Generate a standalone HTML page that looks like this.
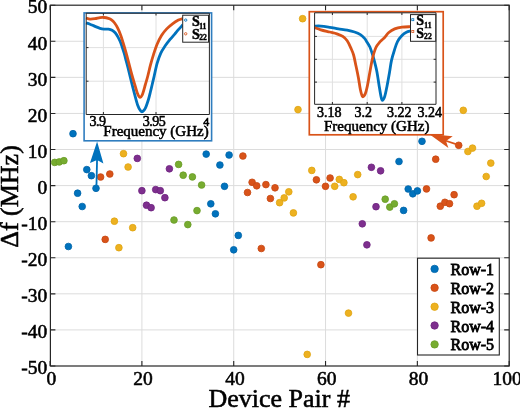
<!DOCTYPE html><html><head><meta charset="utf-8"><style>html,body{margin:0;padding:0;background:#fff;overflow:hidden}svg{display:block}text{font-family:"Liberation Serif",serif;stroke:#000;stroke-width:0.55px}</style></head><body>
<svg width="520" height="409" viewBox="0 0 520 409">
<rect width="520" height="409" fill="#fff"/>
<path d="M141.90 5.2V366 M233.72 5.2V366 M325.54 5.2V366 M417.36 5.2V366 M50.4 329.92H509.2 M50.4 293.84H509.2 M50.4 257.76H509.2 M50.4 221.68H509.2 M50.4 185.60H509.2 M50.4 149.52H509.2 M50.4 113.44H509.2 M50.4 77.36H509.2 M50.4 41.28H509.2" stroke="#DCDCDC" stroke-width="1" fill="none"/>
<path d="M50.08 366V361M50.08 5.2V10.2 M141.90 366V361M141.90 5.2V10.2 M233.72 366V361M233.72 5.2V10.2 M325.54 366V361M325.54 5.2V10.2 M417.36 366V361M417.36 5.2V10.2 M509.18 366V361M509.18 5.2V10.2 M50.4 366.00H55.4M509.2 366.00H504.2 M50.4 329.92H55.4M509.2 329.92H504.2 M50.4 293.84H55.4M509.2 293.84H504.2 M50.4 257.76H55.4M509.2 257.76H504.2 M50.4 221.68H55.4M509.2 221.68H504.2 M50.4 185.60H55.4M509.2 185.60H504.2 M50.4 149.52H55.4M509.2 149.52H504.2 M50.4 113.44H55.4M509.2 113.44H504.2 M50.4 77.36H55.4M509.2 77.36H504.2 M50.4 41.28H55.4M509.2 41.28H504.2 M50.4 5.20H55.4M509.2 5.20H504.2" stroke="#262626" stroke-width="1.1" fill="none"/>
<rect x="50.4" y="5.2" width="458.8" height="360.8" fill="none" stroke="#262626" stroke-width="1.2"/>
<g font-size="19.5" fill="#000"><text x="47.2" y="374.2" text-anchor="end">-50</text><text x="47.2" y="338.1" text-anchor="end">-40</text><text x="47.2" y="302.0" text-anchor="end">-30</text><text x="47.2" y="266.0" text-anchor="end">-20</text><text x="47.2" y="229.9" text-anchor="end">-10</text><text x="47.2" y="193.8" text-anchor="end">0</text><text x="47.2" y="157.7" text-anchor="end">10</text><text x="47.2" y="121.6" text-anchor="end">20</text><text x="47.2" y="85.6" text-anchor="end">30</text><text x="47.2" y="49.5" text-anchor="end">40</text><text x="47.2" y="13.4" text-anchor="end">50</text><text x="51.3" y="385" text-anchor="middle">0</text><text x="143.1" y="385" text-anchor="middle">20</text><text x="234.9" y="385" text-anchor="middle">40</text><text x="326.7" y="385" text-anchor="middle">60</text><text x="418.6" y="385" text-anchor="middle">80</text><text x="507.0" y="385" text-anchor="middle">100</text></g>
<text x="279.2" y="407.2" font-size="26" text-anchor="middle" fill="#000">Device Pair #</text>
<text transform="translate(18.0 196.5) rotate(-90)" font-size="26" text-anchor="middle" fill="#000">Δf (MHz)</text>
<g fill="#0072BD" stroke="#0064A8" stroke-width="0.8"><circle cx="73.0" cy="133.7" r="3.35"/><circle cx="86.8" cy="169.6" r="3.35"/><circle cx="91.4" cy="175.7" r="3.35"/><circle cx="96.0" cy="188.3" r="3.35"/><circle cx="77.6" cy="193.2" r="3.35"/><circle cx="82.2" cy="206.5" r="3.35"/><circle cx="68.4" cy="246.5" r="3.35"/><circle cx="206.2" cy="154.1" r="3.35"/><circle cx="229.1" cy="155.0" r="3.35"/><circle cx="219.9" cy="165.0" r="3.35"/><circle cx="224.5" cy="186.3" r="3.35"/><circle cx="210.8" cy="203.8" r="3.35"/><circle cx="215.4" cy="213.8" r="3.35"/><circle cx="238.3" cy="235.4" r="3.35"/><circle cx="233.7" cy="249.8" r="3.35"/><circle cx="422.0" cy="141.3" r="3.35"/><circle cx="399.0" cy="161.5" r="3.35"/><circle cx="408.2" cy="189.0" r="3.35"/><circle cx="412.8" cy="193.8" r="3.35"/><circle cx="417.4" cy="190.9" r="3.35"/><circle cx="403.6" cy="210.4" r="3.35"/></g>
<g fill="#D95319" stroke="#C64812" stroke-width="0.8"><circle cx="100.6" cy="177.0" r="3.35"/><circle cx="109.8" cy="174.0" r="3.35"/><circle cx="105.2" cy="239.4" r="3.35"/><circle cx="242.9" cy="156.0" r="3.35"/><circle cx="252.1" cy="182.3" r="3.35"/><circle cx="256.7" cy="185.8" r="3.35"/><circle cx="265.9" cy="184.6" r="3.35"/><circle cx="275.0" cy="187.8" r="3.35"/><circle cx="247.5" cy="192.5" r="3.35"/><circle cx="270.4" cy="198.5" r="3.35"/><circle cx="261.3" cy="248.5" r="3.35"/><circle cx="316.4" cy="179.8" r="3.35"/><circle cx="325.5" cy="186.3" r="3.35"/><circle cx="330.1" cy="178.0" r="3.35"/><circle cx="320.9" cy="264.7" r="3.35"/><circle cx="435.7" cy="159.2" r="3.35"/><circle cx="458.7" cy="145.3" r="3.35"/><circle cx="426.5" cy="188.9" r="3.35"/><circle cx="454.1" cy="194.7" r="3.35"/><circle cx="440.3" cy="206.2" r="3.35"/><circle cx="444.9" cy="202.3" r="3.35"/><circle cx="449.5" cy="203.7" r="3.35"/><circle cx="431.1" cy="237.9" r="3.35"/></g>
<g fill="#EDB120" stroke="#E0A512" stroke-width="0.8"><circle cx="123.5" cy="153.7" r="3.35"/><circle cx="128.1" cy="167.0" r="3.35"/><circle cx="114.4" cy="221.2" r="3.35"/><circle cx="132.7" cy="227.7" r="3.35"/><circle cx="118.9" cy="247.7" r="3.35"/><circle cx="302.6" cy="18.7" r="3.35"/><circle cx="298.0" cy="109.6" r="3.35"/><circle cx="288.8" cy="191.8" r="3.35"/><circle cx="284.2" cy="197.9" r="3.35"/><circle cx="279.6" cy="202.7" r="3.35"/><circle cx="293.4" cy="212.9" r="3.35"/><circle cx="311.8" cy="170.4" r="3.35"/><circle cx="339.3" cy="179.4" r="3.35"/><circle cx="343.9" cy="182.7" r="3.35"/><circle cx="334.7" cy="186.3" r="3.35"/><circle cx="357.7" cy="174.6" r="3.35"/><circle cx="353.1" cy="196.8" r="3.35"/><circle cx="348.5" cy="313.1" r="3.35"/><circle cx="307.2" cy="354.4" r="3.35"/><circle cx="463.3" cy="110.3" r="3.35"/><circle cx="467.9" cy="151.5" r="3.35"/><circle cx="472.5" cy="148.1" r="3.35"/><circle cx="490.8" cy="163.1" r="3.35"/><circle cx="486.2" cy="176.5" r="3.35"/><circle cx="477.0" cy="206.2" r="3.35"/><circle cx="481.6" cy="203.3" r="3.35"/></g>
<g fill="#7E2F8E" stroke="#6E2480" stroke-width="0.8"><circle cx="137.3" cy="158.4" r="3.35"/><circle cx="141.9" cy="190.7" r="3.35"/><circle cx="146.5" cy="205.2" r="3.35"/><circle cx="151.1" cy="207.7" r="3.35"/><circle cx="169.4" cy="168.8" r="3.35"/><circle cx="155.7" cy="189.6" r="3.35"/><circle cx="160.3" cy="190.7" r="3.35"/><circle cx="164.9" cy="197.7" r="3.35"/><circle cx="371.4" cy="167.3" r="3.35"/><circle cx="380.6" cy="170.8" r="3.35"/><circle cx="376.0" cy="206.7" r="3.35"/><circle cx="362.3" cy="223.8" r="3.35"/><circle cx="366.9" cy="244.8" r="3.35"/></g>
<g fill="#77AC30" stroke="#699C26" stroke-width="0.8"><circle cx="54.7" cy="162.4" r="3.35"/><circle cx="59.3" cy="161.9" r="3.35"/><circle cx="63.9" cy="160.7" r="3.35"/><circle cx="178.6" cy="164.4" r="3.35"/><circle cx="183.2" cy="175.2" r="3.35"/><circle cx="192.4" cy="176.9" r="3.35"/><circle cx="201.6" cy="185.0" r="3.35"/><circle cx="197.0" cy="210.6" r="3.35"/><circle cx="174.0" cy="220.0" r="3.35"/><circle cx="187.8" cy="224.6" r="3.35"/><circle cx="385.2" cy="199.2" r="3.35"/><circle cx="389.8" cy="207.1" r="3.35"/><circle cx="394.4" cy="203.8" r="3.35"/></g>
<rect x="417.5" y="258.2" width="81.8" height="96.8" fill="#fff" stroke="#262626" stroke-width="1.1"/>
<circle cx="434.6" cy="268.9" r="3.7" fill="#0072BD" stroke="#0064A8" stroke-width="0.8"/>
<text x="450.5" y="274.9" font-size="16" fill="#000" style="stroke-width:0.8px">Row-1</text>
<circle cx="434.6" cy="287.8" r="3.7" fill="#D95319" stroke="#C64812" stroke-width="0.8"/>
<text x="450.5" y="293.8" font-size="16" fill="#000" style="stroke-width:0.8px">Row-2</text>
<circle cx="434.6" cy="306.7" r="3.7" fill="#EDB120" stroke="#E0A512" stroke-width="0.8"/>
<text x="450.5" y="312.7" font-size="16" fill="#000" style="stroke-width:0.8px">Row-3</text>
<circle cx="434.6" cy="325.5" r="3.7" fill="#7E2F8E" stroke="#6E2480" stroke-width="0.8"/>
<text x="450.5" y="331.5" font-size="16" fill="#000" style="stroke-width:0.8px">Row-4</text>
<circle cx="434.6" cy="344.4" r="3.7" fill="#77AC30" stroke="#699C26" stroke-width="0.8"/>
<text x="450.5" y="350.4" font-size="16" fill="#000" style="stroke-width:0.8px">Row-5</text>
<g>
<rect x="84.1" y="12.9" width="127.5" height="127.9" fill="#fff" stroke="#2F7DBF" stroke-width="1.6"/>
<path d="M103.4 13.5V114.5M156 13.5V114.5M86 47.6H209.4M86 81.2H209.4" stroke="#E0E0E0" stroke-width="1" fill="none"/>
<path d="M86.00 23.00C86.67 23.20 88.50 23.63 90.00 24.20C91.50 24.77 93.33 25.72 95.00 26.40C96.67 27.08 98.50 27.85 100.00 28.30C101.50 28.75 102.60 28.95 104.00 29.10C105.40 29.25 107.05 29.00 108.40 29.20C109.75 29.40 110.97 29.70 112.10 30.30C113.23 30.90 114.28 31.78 115.20 32.80C116.12 33.82 116.78 34.98 117.60 36.40C118.42 37.82 119.37 39.62 120.10 41.30C120.83 42.98 121.30 44.45 122.00 46.50C122.70 48.55 123.60 51.20 124.30 53.60C125.00 56.00 125.57 58.47 126.20 60.90C126.83 63.33 127.18 64.53 128.10 68.20C129.02 71.87 130.60 78.50 131.70 82.90C132.80 87.30 133.72 90.93 134.70 94.60C135.68 98.27 136.63 102.22 137.60 104.90C138.57 107.58 139.65 109.60 140.50 110.70C141.35 111.80 141.87 111.98 142.70 111.50C143.53 111.02 144.52 109.88 145.50 107.80C146.48 105.72 147.77 101.72 148.60 99.00C149.43 96.28 149.90 93.92 150.50 91.50C151.10 89.08 151.58 87.08 152.20 84.50C152.82 81.92 153.38 79.52 154.20 76.00C155.02 72.48 156.00 67.22 157.10 63.40C158.20 59.58 159.45 56.03 160.80 53.10C162.15 50.17 163.62 48.12 165.20 45.80C166.78 43.48 168.72 41.15 170.30 39.20C171.88 37.25 173.35 35.68 174.70 34.10C176.05 32.52 177.05 31.25 178.40 29.70C179.75 28.15 182.07 25.62 182.80 24.80" fill="none" stroke="#0072BD" stroke-width="2.8" stroke-linejoin="round"/>
<path d="M86.00 18.00C86.67 18.18 88.50 18.98 90.00 19.10C91.50 19.22 93.33 18.95 95.00 18.70C96.67 18.45 98.50 17.80 100.00 17.60C101.50 17.40 102.60 17.37 104.00 17.50C105.40 17.63 107.15 18.00 108.40 18.40C109.65 18.80 110.47 19.13 111.50 19.90C112.53 20.67 113.58 21.67 114.60 23.00C115.62 24.33 116.58 25.87 117.60 27.90C118.62 29.93 119.78 32.75 120.70 35.20C121.62 37.65 122.28 39.95 123.10 42.60C123.92 45.25 124.73 48.03 125.60 51.10C126.47 54.17 127.28 57.17 128.30 61.00C129.32 64.83 130.63 70.22 131.70 74.10C132.77 77.98 133.77 81.13 134.70 84.30C135.63 87.47 136.45 90.93 137.30 93.10C138.15 95.27 138.98 96.98 139.80 97.30C140.62 97.62 141.27 97.13 142.20 95.00C143.13 92.87 144.47 87.67 145.40 84.50C146.33 81.33 146.95 79.27 147.80 76.00C148.65 72.73 149.55 68.47 150.50 64.90C151.45 61.33 152.40 58.03 153.50 54.60C154.60 51.17 155.77 47.48 157.10 44.30C158.43 41.12 159.90 38.07 161.50 35.50C163.10 32.93 164.87 30.85 166.70 28.90C168.53 26.95 170.55 25.27 172.50 23.80C174.45 22.33 176.68 20.97 178.40 20.10C180.12 19.23 182.07 18.85 182.80 18.60" fill="none" stroke="#D95319" stroke-width="2.8" stroke-linejoin="round"/>
<path d="M86.2 13.2V114.5H209.4V13.2Z" fill="none" stroke="#262626" stroke-width="1"/>
<path d="M103.4 114.5V112M156 114.5V112M103.4 13.2V15.5M156 13.2V15.5M86.2 47.6H88.5M86.2 81.2H88.5" stroke="#262626" stroke-width="1"/>
<rect x="182.7" y="15.2" width="25.8" height="27" fill="#fff" stroke="#262626" stroke-width="1"/>
<circle cx="185.7" cy="20.1" r="1.2" fill="none" stroke="#0072BD" stroke-width="0.9"/>
<circle cx="185.7" cy="33.8" r="1.2" fill="none" stroke="#D95319" stroke-width="0.9"/>
<text x="192.1" y="26" font-size="14" font-weight="bold" style="stroke-width:0.45px">S</text><text x="199.2" y="28.9" font-size="7.6" font-weight="bold" style="stroke-width:0.4px">11</text>
<text x="192.1" y="38.6" font-size="14" font-weight="bold" style="stroke-width:0.45px">S</text><text x="199.2" y="39.8" font-size="7.6" font-weight="bold" style="stroke-width:0.4px">22</text>
<g font-size="14" text-anchor="middle"><text x="97.4" y="126.3" letter-spacing="-0.5">3.9</text><text x="154" y="126.2" letter-spacing="-0.5">3.95</text><text x="206.2" y="126" font-size="12">4</text></g>
<text x="156" y="135.8" font-size="15" text-anchor="middle">Frequency (GHz)</text>
</g>
<g>
<rect x="309.3" y="11.7" width="133.9" height="123.1" fill="#fff" stroke="#D95319" stroke-width="1.7"/>
<path d="M332.4 12.8V104.3M367.2 12.8V104.3M401.9 12.8V104.3M314.6 36.4H436M314.6 59.3H436M314.6 82.1H436" stroke="#E0E0E0" stroke-width="1" fill="none"/>
<path d="M314.60 26.10C315.63 26.10 318.30 25.90 320.80 26.10C323.30 26.30 326.67 26.85 329.60 27.30C332.53 27.75 335.47 28.32 338.40 28.80C341.33 29.28 344.52 29.67 347.20 30.20C349.88 30.73 352.30 31.27 354.50 32.00C356.70 32.73 358.68 33.50 360.40 34.60C362.12 35.70 363.77 37.45 364.80 38.60C365.83 39.75 365.98 40.52 366.60 41.50C367.22 42.48 367.97 43.62 368.50 44.50C369.03 45.38 369.32 45.70 369.80 46.80C370.28 47.90 370.82 49.38 371.40 51.10C371.98 52.82 372.42 53.82 373.30 57.10C374.18 60.38 375.72 65.95 376.70 70.80C377.68 75.65 378.48 81.92 379.20 86.20C379.92 90.48 380.48 94.15 381.00 96.50C381.52 98.85 381.68 100.30 382.30 100.30C382.92 100.30 383.92 98.85 384.70 96.50C385.48 94.15 386.20 90.20 387.00 86.20C387.80 82.20 388.75 76.80 389.50 72.50C390.25 68.20 390.68 64.12 391.50 60.40C392.32 56.68 393.38 53.38 394.40 50.20C395.42 47.02 396.33 43.75 397.60 41.30C398.87 38.85 400.53 37.02 402.00 35.50C403.47 33.98 404.98 32.95 406.40 32.20C407.82 31.45 409.82 31.20 410.50 31.00" fill="none" stroke="#0072BD" stroke-width="2.8" stroke-linejoin="round"/>
<path d="M314.60 27.60C315.63 27.97 318.30 29.07 320.80 29.80C323.30 30.53 326.92 31.33 329.60 32.00C332.28 32.67 334.70 33.07 336.90 33.80C339.10 34.53 341.08 35.23 342.80 36.40C344.52 37.57 345.85 38.85 347.20 40.80C348.55 42.75 349.83 45.73 350.90 48.10C351.97 50.47 352.75 52.02 353.60 55.00C354.45 57.98 355.20 62.22 356.00 66.00C356.80 69.78 357.67 73.75 358.40 77.70C359.13 81.65 359.72 86.57 360.40 89.70C361.08 92.83 361.70 95.80 362.50 96.50C363.30 97.20 364.40 95.62 365.20 93.90C366.00 92.18 366.53 89.77 367.30 86.20C368.07 82.63 368.95 77.07 369.80 72.50C370.65 67.93 371.40 62.93 372.40 58.80C373.40 54.67 374.52 50.55 375.80 47.70C377.08 44.85 378.67 43.37 380.10 41.70C381.53 40.03 382.95 39.23 384.40 37.70C385.85 36.17 387.08 33.97 388.80 32.50C390.52 31.03 392.50 29.80 394.70 28.90C396.90 28.00 399.37 27.47 402.00 27.10C404.63 26.73 409.08 26.77 410.50 26.70" fill="none" stroke="#D95319" stroke-width="2.8" stroke-linejoin="round"/>
<path d="M314.6 12.8V104.3H436V12.8Z" fill="none" stroke="#262626" stroke-width="1"/>
<path d="M332.4 104.3V102M367.2 104.3V102M401.9 104.3V102M332.4 12.8V15M367.2 12.8V15M401.9 12.8V15M314.6 36.4H317M314.6 59.3H317M314.6 82.1H317M436 36.4H433.6M436 59.3H433.6M436 82.1H433.6" stroke="#262626" stroke-width="1"/>
<rect x="410.5" y="14.6" width="25.2" height="26.7" fill="#fff" stroke="#262626" stroke-width="1"/>
<rect x="411.8" y="18.7" width="2" height="2" fill="none" stroke="#0072BD" stroke-width="0.8"/>
<rect x="411.8" y="30.4" width="2" height="2" fill="none" stroke="#D95319" stroke-width="0.8"/>
<text x="416.3" y="25.4" font-size="14" font-weight="bold" style="stroke-width:0.45px">S</text><text x="424.3" y="27.7" font-size="7.6" font-weight="bold" style="stroke-width:0.4px">11</text>
<text x="416.3" y="37.8" font-size="14" font-weight="bold" style="stroke-width:0.45px">S</text><text x="424.1" y="39" font-size="7.6" font-weight="bold" style="stroke-width:0.4px">22</text>
<g font-size="14" text-anchor="middle"><text x="329.3" y="116.5">3.18</text><text x="363.3" y="116.5">3.2</text><text x="399.3" y="116.5">3.22</text><text x="429.7" y="116.5">3.24</text></g>
<text x="376.7" y="130.5" font-size="15" text-anchor="middle">Frequency (GHz)</text>
</g>
<line x1="96.4" y1="188" x2="97.1" y2="158" stroke="#0072BD" stroke-width="1.8"/>
<polygon points="97.1,141.6 103.4,163.5 97.1,159.9 90,163.1" fill="#0072BD"/>
<line x1="458.9" y1="145.2" x2="445" y2="140.5" stroke="#D95319" stroke-width="1.8"/>
<polygon points="429.1,134.1 452.7,136.3 446,140.9 448.4,148.1" fill="#D95319"/>
</svg></body></html>
